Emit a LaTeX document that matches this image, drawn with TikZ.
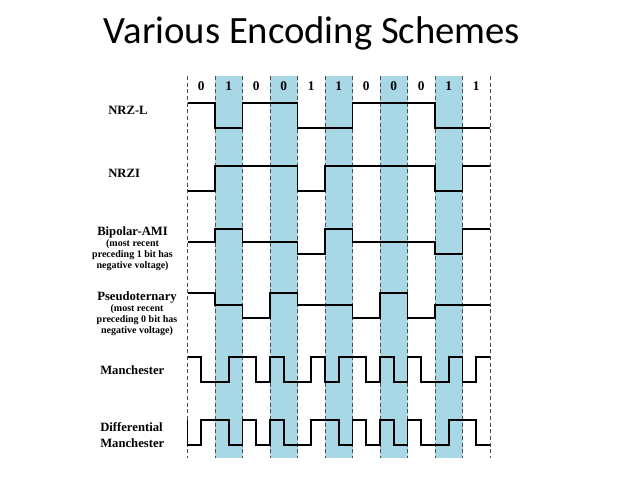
\documentclass[tikz,border=0pt]{standalone}
\usepackage{fontspec}
\setmainfont{Liberation Serif}
\newfontfamily\titlefont{Carlito}
\begin{document}
\begin{tikzpicture}[x=0.75pt,y=-0.75pt,
  wave/.style={line width=1.3pt,line join=miter},
  lbl/.style={font=\bfseries\fontsize{9.5}{10}\selectfont,anchor=west,inner sep=0},
  sub/.style={font=\bfseries\fontsize{7.5}{8.4}\selectfont,align=center,inner sep=0,anchor=north}]
\useasboundingbox (0,0) rectangle (638,478);
\node (title) at (312,33) {\titlefont\fontsize{29}{33}\selectfont Various Encoding Schemes};
% shading
\foreach \i in {1,3,5,7,9}
  \fill[fill={rgb,255:red,168;green,216;blue,230}] ({187.5+27.5*\i},76) rectangle ({187.5+27.5*(\i+1)},458);
% dashed grid
\foreach \i in {0,...,11}
  \draw[densely dashed,line width=0.5pt,black!70] ({187.5+27.5*\i},76) -- ({187.5+27.5*\i},458);
% bits
\foreach \b [count=\i from 0] in {0,1,0,0,1,1,0,0,0,1,1}
  \node[font=\bfseries\fontsize{10}{11}\selectfont] (bit\i) at ({201.25+27.5*\i},86) {\b};
% waveforms
\newcommand\wave[2]{\draw[wave] (187.5,#1) \foreach \l [count=\k from 0] in {#2} { -- ({187.5+13.75*\k},\l) -- ({187.5+13.75*(\k+1)},\l) };}
\wave{103}{103,103,128,128,103,103,103,103,128,128,128,128,103,103,103,103,103,103,128,128,128,128}
\wave{191}{191,191,166,166,166,166,166,166,191,191,166,166,166,166,166,166,166,166,191,191,166,166}
\wave{242}{242,242,229,229,242,242,242,242,254,254,229,229,242,242,242,242,242,242,254,254,229,229}
\wave{293}{293,293,305,305,318,318,293,293,305,305,305,305,318,318,293,293,318,318,305,305,305,305}
\wave{357}{357,382,382,357,357,382,357,382,382,357,382,357,357,382,357,382,357,382,382,357,382,357}
\wave{420}{445,420,420,445,420,445,420,445,445,420,420,445,420,445,420,445,420,445,445,420,420,445}
% labels
\node[lbl] (nrzl) at (108,110) {NRZ-L};
\node[lbl] (nrzi) at (108,173) {NRZI};
\node[lbl] (ami) at (97,232) {Bipolar-AMI};
\node[sub] (amis) at ([yshift=-1pt]ami.south) {(most recent\\preceding 1 bit has\\negative voltage)};
\node[lbl] (pt) at (97,297) {Pseudoternary};
\node[sub] (pts) at ([yshift=-1pt]pt.south) {(most recent\\preceding 0 bit has\\negative voltage)};
\node[lbl] (man) at (100,370) {Manchester};
\node[lbl,align=left,font=\bfseries\fontsize{9.5}{11.5}\selectfont] (dman) at (100,435) {Differential\\Manchester};
\end{tikzpicture}
\end{document}
